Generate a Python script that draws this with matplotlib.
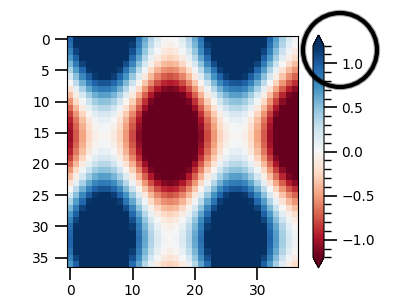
import numpy as np
import matplotlib
matplotlib.use("Agg")
import matplotlib.pyplot as plt
from matplotlib.ticker import MultipleLocator
from matplotlib.patches import Ellipse
import matplotlib.patheffects as pe

# column profile (values read along rows of the picture)
col_profile = [-0.03, 0.26, 0.53, 0.76, 0.92, 0.99, 0.98, 0.89, 0.72, 0.48,
               0.21, -0.09, -0.38, -0.63, -0.83, -0.96, -1.00, -0.96, -0.83, -0.63,
               -0.38, -0.09, 0.21, 0.48, 0.72, 0.89, 0.98, 0.99, 0.92, 0.76,
               0.53, 0.26, -0.03, -0.32, -0.58, -0.80, -0.94]
# row profile (values read along columns of the picture)
row_profile = [0.98, 0.93, 0.84, 0.72, 0.58, 0.41, 0.24, 0.05, -0.14, -0.33,
               -0.50, -0.65, -0.79, -0.89, -0.96, -1.00, -1.00, -0.96, -0.89, -0.79,
               -0.65, -0.50, -0.33, -0.14, 0.05, 0.24, 0.41, 0.58, 0.72, 0.84,
               0.93, 0.98, 1.00, 0.98, 0.93, 0.84, 0.72]

Z = np.add.outer(np.array(row_profile), np.array(col_profile))

W, H = 400, 300
fig = plt.figure(figsize=(4, 3), dpi=100)
ax = fig.add_axes([67 / W, 1 - 267 / H, 231 / W, 231 / H])
im = ax.imshow(Z, cmap="RdBu", vmin=-1.2, vmax=1.2, interpolation="nearest")
ax.set_xticks([0, 10, 20, 30])
ax.set_yticks([0, 5, 10, 15, 20, 25, 30, 35])
ax.tick_params(length=9, width=1.2)

cax = fig.add_axes([313 / W, 1 - 268 / H, 11 / W, 233 / H])
cb = fig.colorbar(im, cax=cax, extend="both")
cb.set_ticks([-1.0, -0.5, 0.0, 0.5, 1.0])
cax.yaxis.set_minor_locator(MultipleLocator(0.1))
cax.tick_params(which="major", length=9, width=1.2)
cax.tick_params(which="minor", length=5, width=1.0)
cb.outline.set_linewidth(0.8)

circ = Ellipse((340 / W, 1 - 50 / H), 74 / W, 74 / H, transform=fig.transFigure,
               fill=False, edgecolor="black", linewidth=3.0, clip_on=False,
               path_effects=[pe.Stroke(linewidth=4.6, foreground="#00000055"), pe.Normal()])
fig.patches.append(circ)

fig.savefig("out.png", dpi=100)
